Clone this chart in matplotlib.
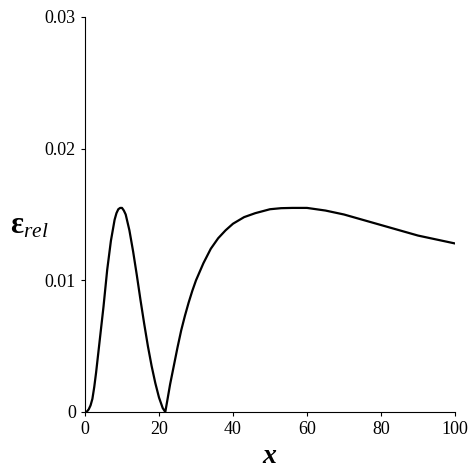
import matplotlib
matplotlib.use('agg')
import matplotlib.pyplot as plt

# values
x_vals = [0, 0.5, 1, 1.5, 2, 2.5, 3, 4, 5, 6, 7, 8, 8.5, 9, 9.5, 10, 10.5, 11, 12, 13, 14, 15,
          16, 17, 18, 19, 20, 21, 21.7,
          22.2, 23, 24, 25, 26, 27, 28, 29, 30, 32, 34, 36, 38, 40, 43, 46, 50, 53, 56, 60,
          65, 70, 75, 80, 85, 90, 95, 100]
eps_vals = [0, 0.00003, 0.0002, 0.0005, 0.001, 0.0019, 0.003, 0.0055, 0.008, 0.0108, 0.013,
            0.0146, 0.0151, 0.0154, 0.0155, 0.0155, 0.0153, 0.015, 0.0138, 0.0122, 0.0104,
            0.0085, 0.0067, 0.005, 0.0035, 0.0022, 0.0011, 0.0003, 0.0,
            0.0008, 0.0021, 0.0035, 0.0049, 0.0062, 0.0073, 0.0083, 0.0092, 0.0100, 0.0113,
            0.0124, 0.0132, 0.0138, 0.0143, 0.0148, 0.0151, 0.0154, 0.01548, 0.0155, 0.0155,
            0.0153, 0.0150, 0.0146, 0.0142, 0.0138, 0.0134, 0.0131, 0.0128]
x_ticks = [0, 20, 40, 60, 80, 100]
y_ticks = [0, 0.01, 0.02, 0.03]
y_labels = ['0', '0.01', '0.02', '0.03']

plt.rcParams['font.family'] = 'Liberation Serif'
plt.rcParams['mathtext.fontset'] = 'custom'
plt.rcParams['mathtext.rm'] = 'Liberation Serif'
plt.rcParams['mathtext.it'] = 'Liberation Serif:italic'
plt.rcParams['mathtext.bf'] = 'Liberation Serif:bold'
plt.rcParams['mathtext.bfit'] = 'Liberation Serif:bold:italic'

fig = plt.figure(figsize=(4.74, 4.74), dpi=100)
ax = fig.add_axes([85 / 474, 62 / 474, 370 / 474, 395 / 474])
ax.plot(x_vals, eps_vals, color='black', lw=1.6)
ax.set_xlim(0, 100)
ax.set_ylim(0, 0.03)
ax.set_xticks(x_ticks)
ax.set_yticks(y_ticks)
ax.set_yticklabels(y_labels)
ax.tick_params(labelsize=13, length=3)
for s in ['top', 'right']:
    ax.spines[s].set_visible(False)
ax.set_xlabel('$\\mathbfit{x}$', fontsize=20)
ax.set_ylabel(r'$\mathbf{\varepsilon}_{\mathit{rel}}$', fontsize=22, rotation=0)
ax.yaxis.set_label_coords(-0.15, 0.435)
fig.savefig('out.png', dpi=100, facecolor='white')
